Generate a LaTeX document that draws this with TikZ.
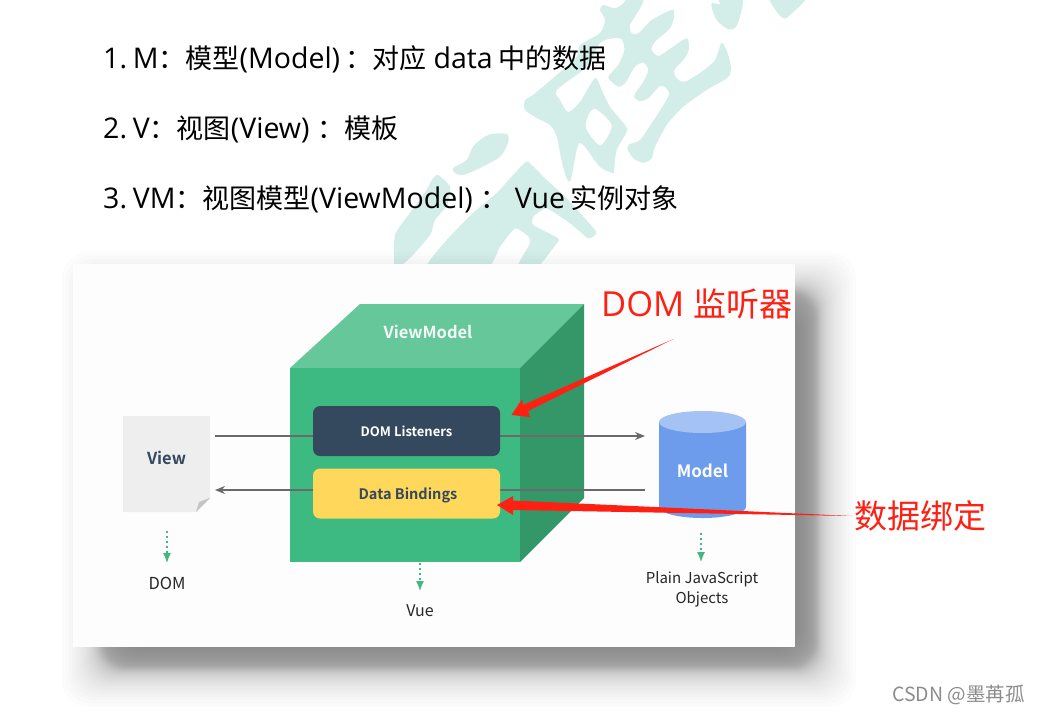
\documentclass[tikz,border=0pt]{standalone}
\usepackage{fontspec}
\usetikzlibrary{arrows.meta}
\setmainfont{Open Sans}
\newfontfamily\cjk{Noto Sans CJK SC}
\newfontfamily\cjkbold{Noto Sans CJK SC Bold}
\newcommand{\zh}[1]{{\cjk\fontsize{27}{30}\selectfont #1}}
\newcommand{\zhr}[1]{{\cjk\fontsize{33}{36}\selectfont #1}}
\definecolor{wmark}{HTML}{D3EEE8}
\definecolor{cardc}{HTML}{FDFDFD}
\definecolor{cubefront}{HTML}{3DBA82}
\definecolor{cubetop}{HTML}{66C79A}
\definecolor{cubeside}{HTML}{339768}
\definecolor{navy}{HTML}{34495E}
\definecolor{sunny}{HTML}{FFD75A}
\definecolor{paperc}{HTML}{EEEEEE}
\definecolor{foldc}{HTML}{C4C4C4}
\definecolor{cylbody}{HTML}{6D9CEC}
\definecolor{cyltop}{HTML}{A5C2F4}
\definecolor{flow}{HTML}{6A6A6A}
\definecolor{dotgreen}{HTML}{41B883}
\definecolor{redmark}{HTML}{FF2014}
\tikzset{
  wm/.style={fill=wmark},
  intro/.style={anchor=west,inner sep=0pt,font=\fontsize{28.5}{30}\selectfont,text=black},
  redtext/.style={anchor=west,inner sep=0pt,text=redmark,font=\fontsize{34.5}{36}\selectfont},
  boxnode/.style={rounded corners=7pt,inner sep=0pt,minimum width=187pt,minimum height=50pt},
  boldlabel/.style={inner sep=0pt,font=\cjkbold\fontsize{#1}{#1}\selectfont},
  smalllabel/.style={inner sep=0pt,align=center,text=black!85,font=\cjk\fontsize{#1}{20}\selectfont},
  flowline/.style={draw=flow,line width=1.4pt},
  flowarrow/.style={flowline,-{Stealth[length=10pt,width=8pt]}},
  dotarrow/.style={draw=dotgreen,line width=1.3pt,dash pattern=on 1.5pt off 3.5pt,-{Latex[length=10pt,width=8pt,sep=0pt]}},
  redarrow/.style={fill=redmark},
}
\begin{document}
\begin{tikzpicture}[x=1pt,y=-1pt]
\useasboundingbox (0,0) rectangle (1040,713);
\clip (0,0) rectangle (1040,713);
\fill[white] (0,0) rectangle (1040,713);
% watermark
\fill[wm,even odd rule]
 plot[smooth cycle,tension=.45] coordinates {
 (600,10)(603.3,5)(615,8.3)(623.3,3.3)(628,-2)(643.3,-2)(640,8.3)(630,25)(631.7,33.3)(638.3,33.3)
 (651.7,20)(671.7,10)(674.3,15)(670,28.3)(655,41.7)(651.7,50)(658.3,56)(668.3,50)(686.7,38.3)(688.7,50)
 (683.3,60)(674.3,70)(676.7,78.3)(685,81.7)(701.7,71.7)(715,60)(721.7,42.7)(728.3,55)(731,70)(726.7,78.3)
 (706.7,90)(683.3,106.7)(666.7,125)(655,146.7)(651.7,158.3)(643.3,162.7)(633.3,158.3)(627.3,148.3)(630,144)(640,140)
 (651.7,123.3)(668.3,96.7)(667.3,89.3)(660,86)(648.3,98.3)(640,101)(634,96)(643.3,81.7)(648.3,70)(643.3,62.7)
 (635,66.7)(625,83.3)(618.3,86.7)(608.3,77.3)(618.3,65)(624.3,50)(621.7,39.3)(613.3,38.3)(600,43)(586.7,66.7)
 (556.7,90)(560,100)(568,112)(580,102)(595,78)(601.7,90)(610,106.7)(625,125)(626.7,131.7)(616.7,150)
 (614,170)(613,173)(600,167)(585,147)(578,145)(570,181.7)(563,167)(556.7,136.7)(550,125)(536.7,118)
 (525,110)(525,100)(533,95)(556.7,75)(576.7,56.7)(580,45)(600,33)(605,20)}
 plot[smooth cycle,tension=.5] coordinates {(595.7,109)(611.7,125)(603.3,143.3)(596.7,143.3)(586,128.3)(588.3,115)};
\fill[wm] plot[smooth cycle,tension=.5] coordinates {(453,168)(466.7,160)(473,146.7)(488,135)(506.7,134)(508,143)(500,156.7)(480,168)(463,175)(455,173)};
\fill[wm] plot[smooth cycle,tension=.3] coordinates {(525,162.3)(531.7,165)(546.7,180)(566.7,198.3)(595,230)(595,235)(588,238.3)(570,223.3)(546.7,208.3)(533.3,216.7)(533.3,225)(558.3,238.3)(556.7,243.3)(536.7,268)(516.7,268)(530,243.3)(528,236)(515,228.3)(500,246.7)(487,268)(426.7,268)(446.7,240)(473,213)(496.7,193)};
\fill[wm] plot[smooth cycle,tension=.4] coordinates {(431.7,180)(438,175)(450,187)(447,205)(435,220)(430,235)(410,258)(395,268)(395,235)(410,213)(426.7,190)};
\fill[wm] plot[smooth cycle,tension=.5] coordinates {(711.7,3.3)(720,4)(719,-3)(742,-3)(740,16.7)(735,28)(728,29)(718,21.7)(713,11.7)};
\fill[wm] plot[smooth cycle,tension=.4] coordinates {(770,-3)(806.7,-3)(788,16.7)(783,18)(776.7,11.7)};
% intro lines
\node[intro] (l1) at (103,59) {1.\hspace{-4pt} M\zh{：模型}(Model)\hspace{5pt}\zh{：对应} data\hspace{-2pt} \zh{中的数据}};
\node[intro] (l2) at (103,129) {2.\hspace{-4pt} V\zh{：视图}(View)\hspace{8pt}\zh{：模板}};
\node[intro] (l3) at (103,199) {3.\hspace{-4pt} VM\zh{：视图模型}(ViewModel)\hspace{8pt}\zh{：}\hspace{7pt}Vue\hspace{-2pt} \zh{实例对象}};
% soft shadow of the card
\foreach \i [evaluate=\i as \d using {38*(0.35*(1-\i/24)+0.65*(1-\i/24)*(1-\i/24)*(1-\i/24))}] in {0,...,48}
  \fill[black,opacity=.012,rounded corners=26pt] (100-\d,290-\d) rectangle (818+\d,669+\d);
% card
\fill[cardc] (73,264) rectangle (795,647);
% cube
\fill[cubetop] (290,368) -- (360,304) -- (584,304) -- (520,368) -- cycle;
\fill[cubeside] (520,368) -- (584,304) -- (584,498) -- (520,562) -- cycle;
\fill[cubefront] (290,368) rectangle (520,562);
\node[boldlabel=16.5,text=white!92!cubetop] (vm) at (428,332) {ViewModel};
% connector ends
\coordinate (viewa) at (215,436);
\coordinate (modela) at (645,436);
\coordinate (viewb) at (215,490);
\coordinate (modelb) at (645,490);
\draw[flowarrow] (viewa) -- (modela);
\draw[flowarrow] (modelb) -- (viewb);
% inner boxes
\node[boxnode,fill=navy,text=white,font=\cjkbold\fontsize{13}{14}\selectfont] (listeners) at (406.5,431) {DOM Listeners};
\node[boxnode,fill=sunny,text=navy,font=\cjkbold\fontsize{14.5}{16}\selectfont] (bindings) at (406.5,493.5) {\hspace{3pt}\rule{0pt}{16pt}Data Bindings};
% view page
\fill[paperc] (123,416) -- (210,416) -- (210,498) -- (196,512) -- (123,512) -- cycle;
\fill[foldc] (210,498) -- (196,512) -- (199,502) -- cycle;
\node[boldlabel=16.5,text=navy] (view) at (166.5,458) {View};
% model cylinder
\fill[cylbody] (659,422) -- (659,507) arc[start angle=180,end angle=360,x radius=43.5pt,y radius=11pt] -- (746,422) -- cycle;
\fill[cyltop] (702.5,422) ellipse[x radius=43.5pt,y radius=11pt];
\node[boldlabel=17,text=white] (model) at (702.5,470.5) {Model};
% dotted arrows and labels
\coordinate (viewdot) at (167,531);
\node[smalllabel=16.5] (dom) at (167,583) {DOM};
\coordinate (cubedot) at (420,563);
\node[smalllabel=16] (vue) at (420,610.5) {Vue};
\coordinate (modeldot) at (701,533);
\node[smalllabel=15] (plain) at (702,589) {Plain JavaScript\\Objects};
\draw[dotarrow] (viewdot) -- (167,563);
\draw[dotarrow] (cubedot) -- (420,591);
\draw[dotarrow] (modeldot) -- (701,562);
% red annotations
\node[redtext] (domzh) at (601,304) {DOM \zhr{监听器}};
\node[redtext] (bindzh) at (854,516) {\zhr{数据绑定}};
\coordinate (tailA) at (673.5,339);
\coordinate (tipA) at (511.5,415);
\coordinate (tailB) at (852,516);
\coordinate (tipB) at (497,505);
\fill[redarrow] (tailA) -- (528,411) -- (530,417) -- (tipA) -- (522,399) -- (523,405) -- cycle;
\fill[redarrow] (tailB) -- (513,510) -- (513,515) -- (tipB) -- (513,496) -- (513,500.5) -- cycle;
% credit
\node[inner sep=0pt,anchor=east,text=black!45,font=\cjk\fontsize{19.5}{20}\selectfont] (credit) at (1025,695) {CSDN @墨苒孤};
\end{tikzpicture}
\end{document}
